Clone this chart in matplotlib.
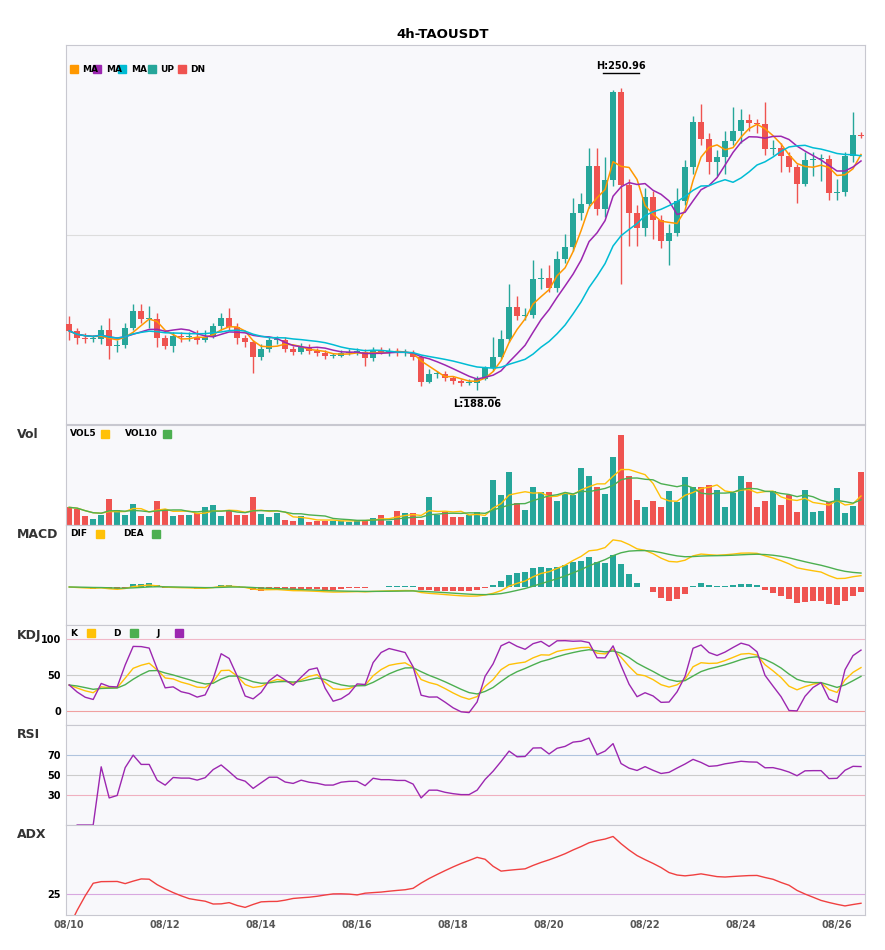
import numpy as np
import pandas as pd
import matplotlib
matplotlib.use("Agg")
import matplotlib.pyplot as plt
from matplotlib.patches import Rectangle

dates = ["08/10", "08/12", "08/14", "08/16", "08/18", "08/20", "08/22", "08/24", "08/26"]
first_open = 201.8
closes = [200.3,198.9,198.7,198.7,200.5,197.2,197.4,201.0,204.5,202.8,
          202.8,198.9,197.2,199.3,199.1,199.1,198.5,199.1,201.4,203.0,
          201.2,198.9,198.0,194.9,196.6,198.5,198.5,196.6,196.0,197.0,
          196.2,195.8,195.1,195.1,195.8,196.0,196.0,194.7,196.4,196.0,
          196.0,195.8,195.8,194.9,189.7,191.4,191.4,190.5,189.9,189.5,
          189.5,190.3,192.6,194.9,198.7,205.3,203.5,203.7,211.2,211.4,
          209.3,215.3,217.8,224.9,226.8,234.7,225.8,231.8,250.0,230.8,
          224.9,221.8,228.3,223.5,219.1,220.8,227.4,234.5,243.9,240.3,
          235.5,236.6,239.9,242.0,244.3,243.7,243.5,238.3,238.5,236.8,
          234.5,231.0,236.0,236.2,236.2,229.1,229.3,236.8,241.2,241.0]
highs = [203.5,201.0,199.8,199.5,201.5,203.0,198.5,202.0,206.0,206.0,
         205.5,204.0,199.5,200.0,200.0,200.0,200.5,200.5,202.0,204.0,
         205.0,202.0,199.5,198.5,197.5,199.0,199.2,199.0,197.2,197.8,
         197.5,196.8,196.3,195.8,196.3,196.5,196.8,196.5,197.0,197.0,
         196.8,196.8,196.5,196.3,195.3,192.3,192.0,192.0,191.0,190.2,
         190.2,191.0,193.0,199.0,200.5,210.0,207.5,205.0,215.0,213.5,
         214.0,217.0,220.5,228.0,229.0,238.5,238.5,236.6,250.5,250.96,
         232.0,226.5,230.0,229.5,224.5,222.5,230.0,236.0,245.0,247.5,
         241.5,238.0,242.0,247.0,246.5,245.5,244.5,248.0,240.0,239.5,
         237.5,235.0,237.5,237.5,237.2,237.0,232.0,237.5,246.0,241.8]
lows = [198.5,197.5,197.8,197.9,197.6,194.5,196.0,196.8,200.5,202.0,
        201.0,197.0,196.5,196.0,198.0,198.3,197.5,198.0,198.8,200.5,
        200.5,197.5,197.0,191.6,194.2,196.0,197.5,196.0,195.2,195.5,
        195.5,195.0,194.5,194.6,194.8,195.2,195.3,193.0,194.0,195.4,
        195.0,195.0,195.0,194.3,188.9,189.5,190.5,189.8,189.2,188.8,
        189.0,188.06,190.0,192.0,194.5,198.0,202.5,202.5,203.0,209.0,
        208.5,208.5,214.5,217.0,223.5,226.0,224.5,224.1,230.5,210.0,
        218.0,218.0,220.0,219.5,217.5,214.0,220.0,226.5,233.0,239.0,
        233.0,232.5,233.0,239.0,239.5,242.0,241.5,237.0,237.0,233.5,
        233.5,227.0,230.5,232.5,231.5,227.5,227.5,228.5,235.5,240.5]
volumes = [53,48,28,18,30,78,46,30,63,28,
           28,73,48,28,30,30,36,55,60,28,
           43,30,30,85,34,25,36,15,12,26,
           10,13,13,13,13,10,15,15,21,30,
           13,42,36,36,16,85,30,40,25,25,
           30,40,23,136,91,160,66,46,115,98,
           100,73,93,90,171,148,115,93,205,271,
           148,76,55,73,55,103,70,145,115,115,
           121,105,55,95,148,130,55,73,103,61,
           91,40,106,40,43,70,110,37,58,160]

UP, DN = "#26a69a", "#ef5350"
C_MA5, C_MA10, C_MA20 = "#ff9800", "#9c27b0", "#00bcd4"
C_Y, C_G = "#ffc107", "#4caf50"
BG = "#f8f8fb"

c = pd.Series(closes)
o = pd.Series([first_open] + closes[:-1])
h = pd.Series(highs); l = pd.Series(lows)
h = pd.concat([h, o, c], axis=1).max(axis=1)
l = pd.concat([l, o, c], axis=1).min(axis=1)
v = pd.Series(volumes, dtype=float)
n = len(c); x = np.arange(n)
up = (c >= o).values
cols = np.where(up, UP, DN)

W, H = 885, 950
fig = plt.figure(figsize=(W/100, H/100), dpi=100)
def rect(top, bot):
    return [66/W, 1-bot/H, 799/W, (bot-top)/H]

def style(ax):
    ax.set_facecolor(BG)
    for s in ax.spines.values():
        s.set_color("#c8c8d0")
    ax.set_xlim(-0.4, 99.5)
    ax.tick_params(axis="x", length=0, labelbottom=False)
    ax.tick_params(axis="y", length=0, labelsize=7)

fig.text(0.5, 1-34/H, "4h-TAOUSDT", ha="center", va="center", fontsize=9.5, fontweight="bold")

# main
ax = fig.add_axes(rect(45, 424)); style(ax)
ax.set_ylim(180.9, 259.9); ax.set_yticks([])
ax.axhline(220.3, color="#dddddd", lw=0.8, zorder=0)
ax.vlines(x, l, h, colors=cols, lw=1, zorder=2)
body = np.maximum((c-o).abs().values, 0.15)
ax.bar(x, body, bottom=np.minimum(o, c).values, width=0.72, color=cols, zorder=3)
for p, col in [(4, C_MA5), (8, C_MA10), (15, C_MA20)]:
    ax.plot(x, c.rolling(p, min_periods=1).mean(), color=col, lw=1.1, zorder=4)
ih = int(h.values.argmax()); il = int(l.values.argmin())
ax.plot([ih-2.2, ih+2.2], [h[ih]+3.2]*2, color="k", lw=1)
ax.text(ih, h[ih]+3.5, "H:%.2f" % h[ih], ha="center", va="bottom", fontsize=7, fontweight="bold")
ax.plot([il-2.2, il+2.2], [l[il]-1.5]*2, color="k", lw=1)
ax.text(il, l[il]-2.0, "L:%.2f" % l[il], ha="center", va="top", fontsize=7, fontweight="bold")

def legend(ax, items, ypx):
    for tx, sx, col, lab in items:
        fig.patches.append(Rectangle((sx/W, 1-(ypx+4)/H), 8/W, 8/H, color=col, transform=fig.transFigure, figure=fig))
        if lab:
            fig.text(tx/W, 1-ypx/H, lab, fontsize=6.5, fontweight="bold", va="center")

legend(ax, [(82, 70, C_MA5, "MA"), (106, 93, C_MA10, "MA"), (131, 118, C_MA20, "MA"),
            (160, 148, UP, "UP"), (190, 178, DN, "DN")], 69)

def label(txt, top):
    fig.text(17/W, 1-top/H, txt, fontsize=9, fontweight="bold", color="#333", va="center")

def bold_ticks(a):
    for t in a.get_yticklabels(): t.set_fontweight("bold")

# volume
av = fig.add_axes(rect(425, 525)); style(av)
av.bar(x, v, width=0.72, color=cols)
av.plot(x, v.rolling(5, min_periods=1).mean(), color=C_Y, lw=1)
av.plot(x, v.rolling(10, min_periods=1).mean(), color=C_G, lw=1)
av.set_ylim(0, 300); av.set_yticks([])
label("Vol", 435)
legend(av, [(70, 101, C_Y, "VOL5"), (125, 163, C_G, "VOL10")], 434)

# MACD
am = fig.add_axes(rect(525, 625)); style(am)
dif = c.ewm(span=12, adjust=False).mean() - c.ewm(span=26, adjust=False).mean()
dea = dif.ewm(span=9, adjust=False).mean()
hist = (dif - dea) * 2
am.bar(x, hist, width=0.72, color=np.where(hist >= 0, UP, DN))
am.plot(x, dif, color=C_Y, lw=1); am.plot(x, dea, color=C_G, lw=1)
topm = max(dif.max(), hist.max()) / 0.76
am.set_ylim(-topm*38/62, topm); am.set_yticks([])
label("MACD", 535)
legend(am, [(70, 96, C_Y, "DIF"), (123, 152, C_G, "DEA")], 534)

# KDJ
ak = fig.add_axes(rect(625, 725)); style(ak)
llv = l.rolling(9, min_periods=1).min(); hhv = h.rolling(9, min_periods=1).max()
rsv = (c - llv) / (hhv - llv) * 100
K = rsv.ewm(com=2, adjust=False).mean(); D = K.ewm(com=2, adjust=False).mean(); J = 3*K - 2*D
for yv, col in [(100, "#f0b8c8"), (50, "#cccccc"), (0, "#f0a0a0")]:
    ak.axhline(yv, color=col, lw=0.8, zorder=0)
ak.plot(x, K, color=C_Y, lw=1); ak.plot(x, D, color=C_G, lw=1); ak.plot(x, J, color=C_MA10, lw=1)
ak.set_ylim(-20, 120); ak.set_yticks([0, 50, 100]); bold_ticks(ak)
label("KDJ", 635)
legend(ak, [(70, 87, C_Y, "K"), (113, 130, C_G, "D"), (156, 175, C_MA10, "J")], 633)

# RSI
ar = fig.add_axes(rect(725, 825)); style(ar)
d = c.diff()
g = d.clip(lower=0).ewm(alpha=1/14, adjust=True).mean()
ls = (-d.clip(upper=0)).ewm(alpha=1/14, adjust=True).mean()
rsi = 100 * g / (g + ls)
for yv, col in [(70, "#b0c4de"), (50, "#cccccc"), (30, "#f0b0c0")]:
    ar.axhline(yv, color=col, lw=0.8, zorder=0)
ar.plot(x, rsi, color=C_MA10, lw=1)
ar.set_ylim(0, 100); ar.set_yticks([30, 50, 70]); bold_ticks(ar)
label("RSI", 735)

# ADX
aa = fig.add_axes(rect(825, 915)); style(aa)
pc = c.shift(1)
tr = pd.concat([h-l, (h-pc).abs(), (l-pc).abs()], axis=1).max(axis=1)
upm = h.diff(); dnm = -l.diff()
pdm = pd.Series(np.where((upm > dnm) & (upm > 0), upm, 0.0))
ndm = pd.Series(np.where((dnm > upm) & (dnm > 0), dnm, 0.0))
atr = tr.ewm(alpha=1/14, adjust=True).mean()
pdi = 100*pdm.ewm(alpha=1/14, adjust=True).mean()/atr
ndi = 100*ndm.ewm(alpha=1/14, adjust=True).mean()/atr
dx = (100*(pdi-ndi).abs()/(pdi+ndi)).fillna(0)
adx = dx.ewm(alpha=1/8, adjust=False).mean()
aa.axhline(25, color="#d8a8e0", lw=0.8, zorder=0)
aa.plot(x, adx, color="#f04040", lw=1)
top = adx.max()
aa.set_ylim(25 - (top-25)*0.37, top + (top-25)*0.2); aa.set_yticks([25]); bold_ticks(aa)
label("ADX", 835)
aa.tick_params(axis="x", labelbottom=True, labelsize=7, labelcolor="#555")
aa.set_xticks(np.arange(len(dates))*12)
aa.set_xticklabels(dates, fontweight="bold")

fig.savefig("out.png", dpi=100)
